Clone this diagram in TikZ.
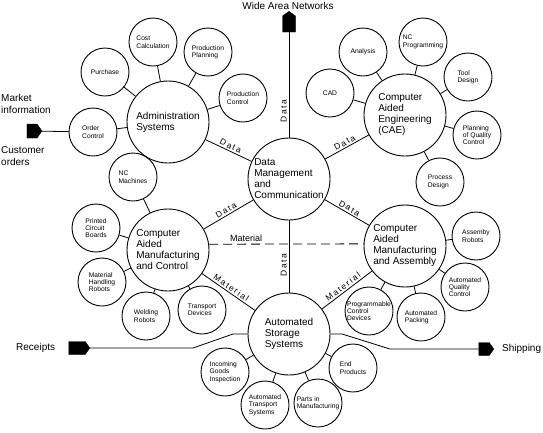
\documentclass[tikz,border=0pt]{standalone}
\usepackage{fontspec}
\setmainfont{Liberation Sans}
\newfontfamily\spacedfont[LetterSpace=18]{Liberation Sans}
\usetikzlibrary{positioning}
\usetikzlibrary{shapes.symbols}

\tikzset{
  big/.style={circle, draw, line width=0.9pt, minimum size=82pt, inner sep=0pt},
  sat/.style={circle, draw, line width=0.9pt, minimum size=48pt, inner sep=0pt},
  btxt/.style={align=left, inner sep=0pt, font=\fontsize{10}{11}\selectfont},
  stxt/.style={align=left, inner sep=0pt, font=\fontsize{6.7}{7.4}\selectfont},
  link/.style={line width=0.8pt},
  flowhead/.style={signal, fill=black, draw=black, inner sep=0pt, signal pointer angle=110},
  lbl/.style={font=\spacedfont\fontsize{8.5}{9}\selectfont, sloped, above, midway, inner sep=1.5pt},
  vlbl/.style={font=\spacedfont\fontsize{8.5}{9}\selectfont, rotate=90, above, inner sep=2pt},
  outer/.style={align=left, inner sep=0pt, font=\fontsize{10}{11.5}\selectfont},
}

\begin{document}
\begin{tikzpicture}[x=1pt, y=-1pt]
\useasboundingbox (0,0) rectangle (543,432);

% main systems
\node[big, label={[btxt]center:Data\\Management\\and\\Communication}] (dmc) at (289,179) {};
\node[big, label={[btxt]center:Administration\\Systems}] (adm) at (168,122) {};
\node[big, label={[btxt]center:Computer\\Aided\\Engineering\\(CAE)}] (cae) at (405,115) {};
\node[big, label={[btxt]center:Computer\\Aided\\Manufacturing\\and Control}] (camc) at (168,250) {};
\node[big, label={[btxt]center:Computer\\Aided\\Manufacturing\\and Assembly}] (cama) at (405,246) {};
\node[big, label={[btxt]center:Automated\\Storage\\Systems}] (ass) at (289,334) {};

% administration
\node[sat, label={[stxt]center:Purchase}] (purch) at (105,72) {};
\node[sat, label={[stxt]center:Cost\\Calculation}] (cost) at (153,42) {};
\node[sat, label={[stxt]center:Production\\Planning}] (pplan) at (208,52) {};
\node[sat, label={[stxt]center:Production\\Control}] (pctrl) at (243,98) {};
\node[sat, label={[stxt]center:Order\\Control}] (order) at (93,132) {};
\foreach \s in {purch,cost,pplan,pctrl,order}
  \draw[link] (adm) -- (\s);

% engineering
\node[sat, label={[stxt]center:CAD}] (cad) at (330,93) {};
\node[sat, label={[stxt]center:Analysis}] (anal) at (363,52) {};
\node[sat, label={[stxt]center:NC\\Programming}] (ncprog) at (423,42) {};
\node[sat, label={[stxt]center:Tool\\Design}] (tool) at (468,77) {};
\node[sat, label={[stxt]center:Planning\\of Quality\\Control}] (planqc) at (477,135) {};
\node[sat, label={[stxt]center:Process\\Design}] (proc) at (440,182) {};
\foreach \s in {cad,anal,ncprog,tool,planqc,proc}
  \draw[link] (cae) -- (\s);

% manufacturing and control
\node[sat, label={[stxt]center:NC\\Machines}] (ncmach) at (133,177) {};
\node[sat, label={[stxt]center:Printed\\Circuit\\Boards}] (pcb) at (96,228) {};
\node[sat, label={[stxt]center:Material\\Handling\\Robots}] (mhr) at (102,282) {};
\node[sat, label={[stxt]center:Welding\\Robots}] (weld) at (146,316) {};
\node[sat, label={[stxt]center:Transport\\Devices}] (trans) at (202,310) {};
\foreach \s in {ncmach,pcb,mhr,weld,trans}
  \draw[link] (camc) -- (\s);

% manufacturing and assembly
\node[sat, label={[stxt]center:Assemby\\Robots}] (asrob) at (476,236) {};
\node[sat, label={[stxt]center:Automated\\Quality\\Control}] (aqc) at (465,287) {};
\node[sat, label={[stxt]center:Automated\\Packing}] (apack) at (421,317) {};
\node[sat, label={[stxt]center:Programmable\\Control\\Devices}] (pcd) at (369,311) {};
\foreach \s in {asrob,aqc,apack,pcd}
  \draw[link] (cama) -- (\s);

% storage
\node[sat, label={[stxt]center:Incoming\\Goods\\Inspection}] (igi) at (225,372) {};
\node[sat, label={[stxt]center:Automated\\Transport\\Systems}] (ats) at (265,405) {};
\node[sat, label={[stxt]center:Parts in\\Manufacturing}] (pim) at (318,403) {};
\node[sat, label={[stxt]center:End\\Products}] (endp) at (353,368) {};
\foreach \s in {igi,ats,pim,endp}
  \draw[link] (ass) -- (\s);

% data and material flows
\draw[link] (adm) -- (dmc) node[lbl] {Data};
\draw[link] (dmc) -- (cae) node[lbl] {Data};
\draw[link] (camc) -- (dmc) node[lbl] {Data};
\draw[link] (dmc) -- (cama) node[lbl] {Data};
\draw[link] (dmc) -- (ass) node[vlbl, pos=0.62] {Data};
\draw[link, dash pattern=on 9pt off 5pt] (camc.8) -- (cama.177)
  node[pos=0.24, above, inner sep=2pt, font=\fontsize{9}{10}\selectfont] {Material};
\draw[link] (camc) -- (ass) node[lbl] {Material};
\draw[link] (cama) -- (ass) node[lbl, pos=0.52] {Material};

% outside world
\node[flowhead, signal to=north, minimum width=13pt, minimum height=16pt] (wan) at (289,24) {};
\node[font=\fontsize{10}{11}\selectfont, inner sep=0pt] (wantxt) at (288,6) {Wide Area Networks};
\draw[link] (dmc) -- (wan) node[vlbl, pos=0.25] {Data};

\node[flowhead, signal to=east, minimum width=15pt, minimum height=14pt] (mkt) at (32,131) {};
\node[outer, anchor=west] (mkttxt) at (1,104) {Market\\information};
\node[outer, anchor=west] (custtxt) at (1,156) {Customer\\orders};
\draw[link] (mkt) -- (order);

\node[flowhead, signal to=east, minimum width=21pt, minimum height=13pt] (rcpt) at (77,348) {};
\node[outer, anchor=west] (rcpttxt) at (16,348) {Receipts};
\coordinate (rb1) at (193,348);
\coordinate (rb2) at (233,334);
\draw[link] (rcpt) -- (rb1) -- (rb2) -- (ass);

\node[flowhead, signal to=east, minimum width=15pt, minimum height=13pt] (ship) at (484,349) {};
\node[outer, anchor=west] (shiptxt) at (502,349) {Shipping};
\coordinate (sb1) at (342,334);
\coordinate (sb2) at (390,349);
\draw[link] (ass) -- (sb1) -- (sb2) -- (ship);
\end{tikzpicture}
\end{document}
